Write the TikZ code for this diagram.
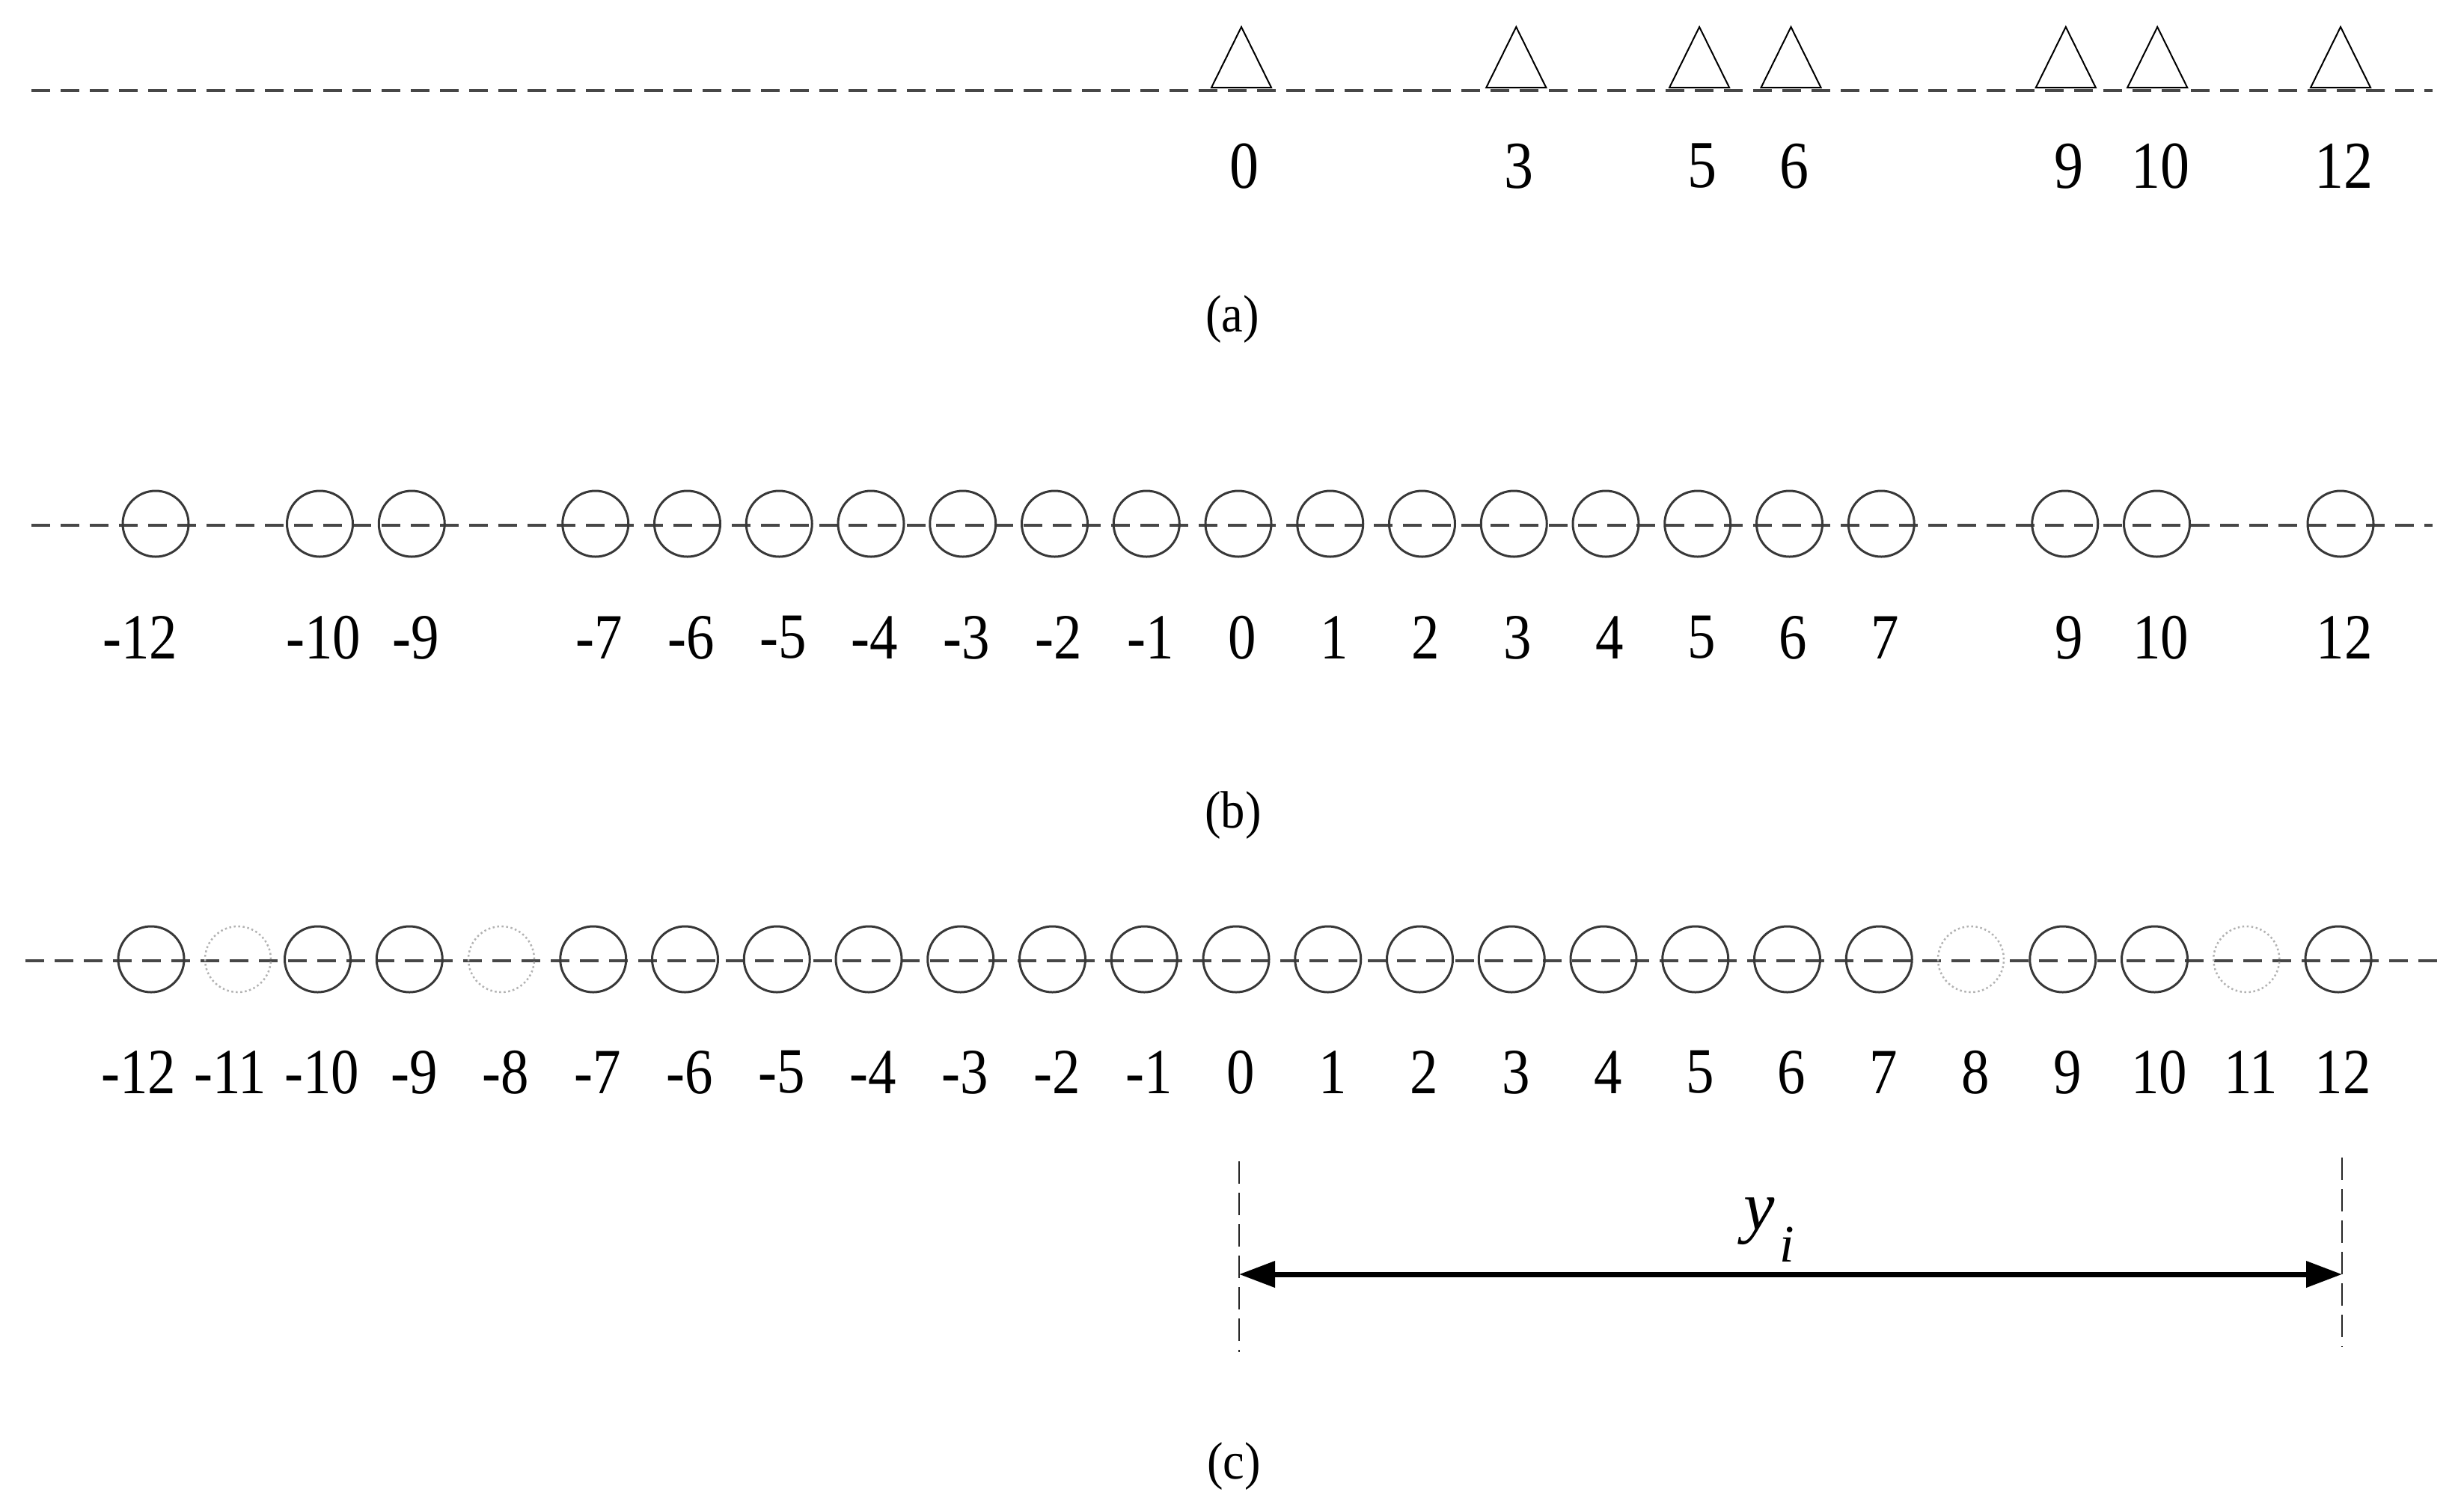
\documentclass[tikz,border=0pt]{standalone}
\usepackage{fontspec}
\setmainfont{Liberation Serif}
\usetikzlibrary{arrows.meta}

\tikzset{
  axisline/.style={draw=black!72, line width=0.04cm, dash pattern=on 0.25cm off 0.14cm},
  site/.style={circle, draw=black!78, line width=0.03cm, minimum size=0.88cm, inner sep=0pt},
  hole/.style={circle, draw=black!30, densely dotted, line width=0.025cm, minimum size=0.88cm, inner sep=0pt},
  sensor/.style={draw=black, line width=0.02cm},
  num/.style={inner sep=0pt, xscale=0.87, transform shape, font=\fontsize{24.5}{29}\selectfont},
  numa/.style={inner sep=0pt, xscale=0.87, transform shape, font=\fontsize{25.5}{30}\selectfont},
  subcap/.style={inner sep=0pt, xscale=0.92, transform shape, font=\fontsize{20}{24}\selectfont},
  guide/.style={draw=black!85, line width=0.02cm, dash pattern=on 0.3cm off 0.12cm},
  span/.style={line width=0.07cm, {Triangle[length=0.48cm,width=0.34cm]}-{Triangle[length=0.48cm,width=0.34cm]}}
}

\begin{document}
\begin{tikzpicture}
  \useasboundingbox (0,0) rectangle (32.93,-20.05);

  %(a) sensor positions
  \coordinate (a-start) at (0.42,-1.21);
  \coordinate (a-end) at (32.51,-1.21);
  \draw[axisline] (a-start) -- (a-end);
  \foreach \i in {0,3,5,6,9,10,12} {
    \pgfmathsetmacro\x{16.59+1.2242*\i}
    \draw[sensor] (\x-0.4,-1.17) -- (\x,-0.36) -- (\x+0.4,-1.17) -- cycle;
    \node[numa] (la\i) at (\x+0.04,-2.22) {\i};
  }
  \node[subcap] (capa) at (16.47,-4.27) {(a)};

  %(b) difference coarray
  \coordinate (b-start) at (0.42,-7.02);
  \coordinate (b-end) at (32.51,-7.02);
  \draw[axisline] (b-start) -- (b-end);
  \node[site] (b-12) at (2.08,-7.0) {};
  \foreach \i in {-10,-9,-7,-6,-5,-4,-3,-2,-1,0,1,2,3,4,5,6,7,9,10,12} {
    \node[site] (b\i) at ({16.55+1.2275*\i},-7.0) {};
  }
  \foreach \i in {-12,-10,-9,-7,-6,-5,-4,-3,-2,-1,0,1,2,3,4,5,6,7,9,10,12} {
    \node[num] (lb\i) at ({16.6+1.2275*\i},-8.52) {\i};
  }
  \node[subcap] (capb) at (16.48,-10.90) {(b)};

  %(c) filled virtual array
  \coordinate (c-start) at (0.34,-12.84);
  \coordinate (c-end) at (32.59,-12.84);
  \draw[axisline] (c-start) -- (c-end);
  \node[site] (c-12) at (2.02,-12.82) {};
  \node[hole] (c-11) at (3.18,-12.82) {};
  \foreach \i in {-10,-9,-7,-6,-5,-4,-3,-2,-1,0,1,2,3,4,5,6,7,9,10,12} {
    \node[site] (c\i) at ({16.52+1.2275*\i},-12.82) {};
  }
  \foreach \i in {-8,8,11} {
    \node[hole] (c\i) at ({16.52+1.2275*\i},-12.82) {};
  }
  \foreach \i in {-12,...,12} {
    \node[num] (lc\i) at ({16.58+1.2275*\i},-14.33) {\i};
  }

  %aperture y_i
  \coordinate (gl-top) at (16.56,-15.52);
  \coordinate (gl-bot) at (16.56,-18.07);
  \coordinate (gr-top) at (31.30,-15.47);
  \coordinate (gr-bot) at (31.30,-18.00);
  \draw[guide] (gl-top) -- (gl-bot);
  \draw[guide] (gr-top) -- (gr-bot);
  \coordinate (span-l) at (16.56,-17.03);
  \coordinate (span-r) at (31.30,-17.03);
  \draw[span] (span-l) -- (span-r);
  \node[anchor=base west, inner sep=0pt, font=\fontsize{26.5}{30}\selectfont] (yi) at (23.3,-16.43)
    {\textit{y}\hspace{0.06cm}\raisebox{-0.43cm}{\fontsize{20}{22}\selectfont\textit{i}}};

  \node[subcap] (capc) at (16.49,-19.60) {(c)};
\end{tikzpicture}
\end{document}
